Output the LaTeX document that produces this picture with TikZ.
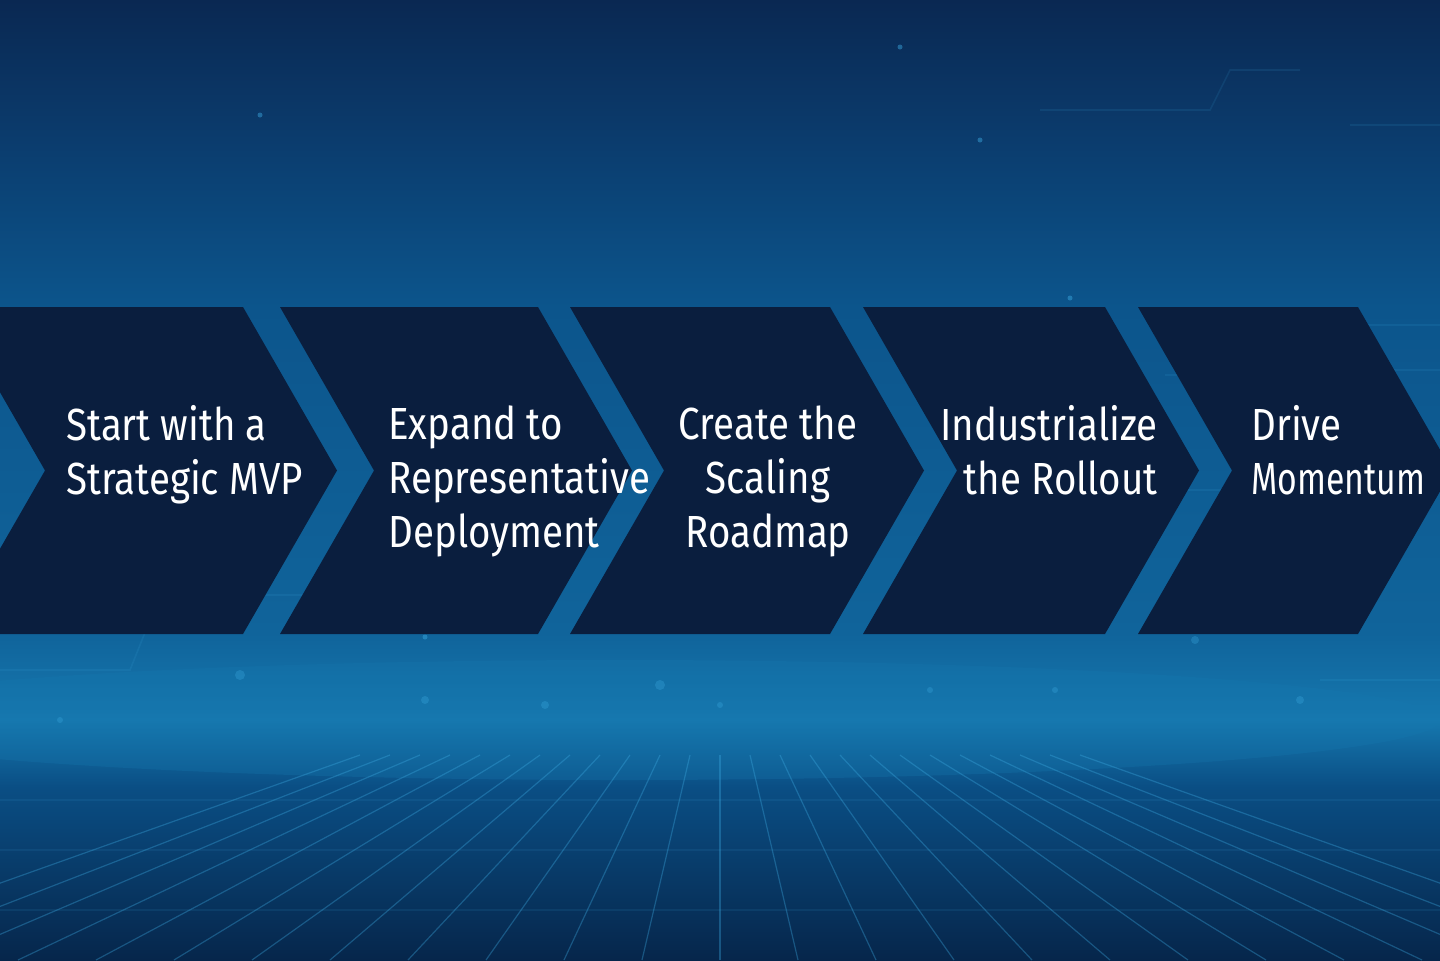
\documentclass[tikz,border=0pt]{standalone}
\usepackage{fontspec}
\setmainfont{Fira Sans}[FakeStretch=0.855]
\newfontfamily\tightfont{Fira Sans}[FakeStretch=0.75]

\definecolor{skytop}{RGB}{10,40,82}
\definecolor{skyhigh}{RGB}{11,62,112}
\definecolor{skymid}{RGB}{12,85,140}
\definecolor{skylow}{RGB}{16,100,155}
\definecolor{horizon}{RGB}{22,120,175}
\definecolor{floormid}{RGB}{10,78,132}
\definecolor{floorlow}{RGB}{6,38,75}
\definecolor{chevronfill}{RGB}{10,30,62}
\definecolor{trace}{RGB}{60,170,225}

\pgfdeclareverticalshading{backdrop}{100bp}{color(0bp)=(floorlow); color(25bp)=(floorlow);
  color(34bp)=(floormid); color(37.5bp)=(horizon); color(42bp)=(skylow);
  color(59bp)=(skymid); color(67bp)=(skyhigh); color(75bp)=(skytop); color(100bp)=(skytop)}

\tikzset{
  steplabel/.style={text=white, inner sep=0pt, font=\fontsize{22.5}{27}\selectfont},
  floorline/.style={trace, opacity=0.35, line width=0.6pt},
  skytrace/.style={trace, opacity=0.12, line width=0.8pt},
}

\begin{document}
\begin{tikzpicture}[x=0.5pt, y=-0.5pt]
			\path[use as bounding box] (0,0) rectangle (1440,960);
			% backdrop
			\shade[shading=backdrop] (0,0) rectangle (1440,960);
			\fill[horizon, opacity=0.3] (620,720) ellipse (820 and 60);
			\foreach \k in {-12,...,12}
				\draw[floorline] (720+\k*30,755) -- (720+\k*78,960);
			\foreach \yy in {800,850,910}
				\draw[floorline, opacity=0.1] (0,\yy) -- (1440,\yy);
			\foreach \px/\py/\r in {240/675/5,425/700/4,660/685/5,720/705/3,1055/690/3,1300/700/4,60/720/3,1195/640/4,930/690/3,545/705/4}
				\fill[trace, opacity=0.3] (\px,\py) circle (\r);
			\foreach \px/\py in {900/47,980/140,1070/298,860/497,425/637,260/115}
				\fill[trace, opacity=0.45] (\px,\py) circle (2.5);
			\draw[skytrace] (1040,110) -- (1210,110) -- (1230,70) -- (1300,70);
			\draw[skytrace] (1110,490) -- (1340,490) -- (1390,370) -- (1440,370);
			\draw[skytrace] (1165,375) -- (1290,375) -- (1300,325) -- (1440,325);
			\draw[skytrace] (1320,680) -- (1450,680) -- (1480,600) -- (1440,600);
			\draw[skytrace] (0,670) -- (130,670) -- (160,595) -- (330,595);
			\draw[skytrace] (1350,125) -- (1470,125) -- (1500,60);
			% chevrons
			\foreach \lft/\rgt in {-49/243,280/538,570/830,863/1105,1138/1358}
				\fill[chevronfill] (\lft,307) -- (\rgt,307) -- (\rgt+94,470.5) -- (\rgt,634)
					-- (\lft,634) -- (\lft+94,470.5) -- cycle;
			% step labels
			\node[steplabel, anchor=north west, align=left] (mvp) at (66,405) {Start with a\\Strategic MVP};
			\node[steplabel, anchor=north west, align=left] (expand) at (388,405) {Expand to\\Representative\\Deployment};
			\node[steplabel, anchor=north, align=center] (roadmap) at (768,405) {Create the\\Scaling\\Roadmap};
			\node[steplabel, anchor=north east, align=right] (rollout) at (1158,405) {Industrialize\\the Rollout};
			\node[steplabel, anchor=north west, align=left] (momentum) at (1251,405) {Drive\\{\tightfont Momentum}};
		\end{tikzpicture}
\end{document}
